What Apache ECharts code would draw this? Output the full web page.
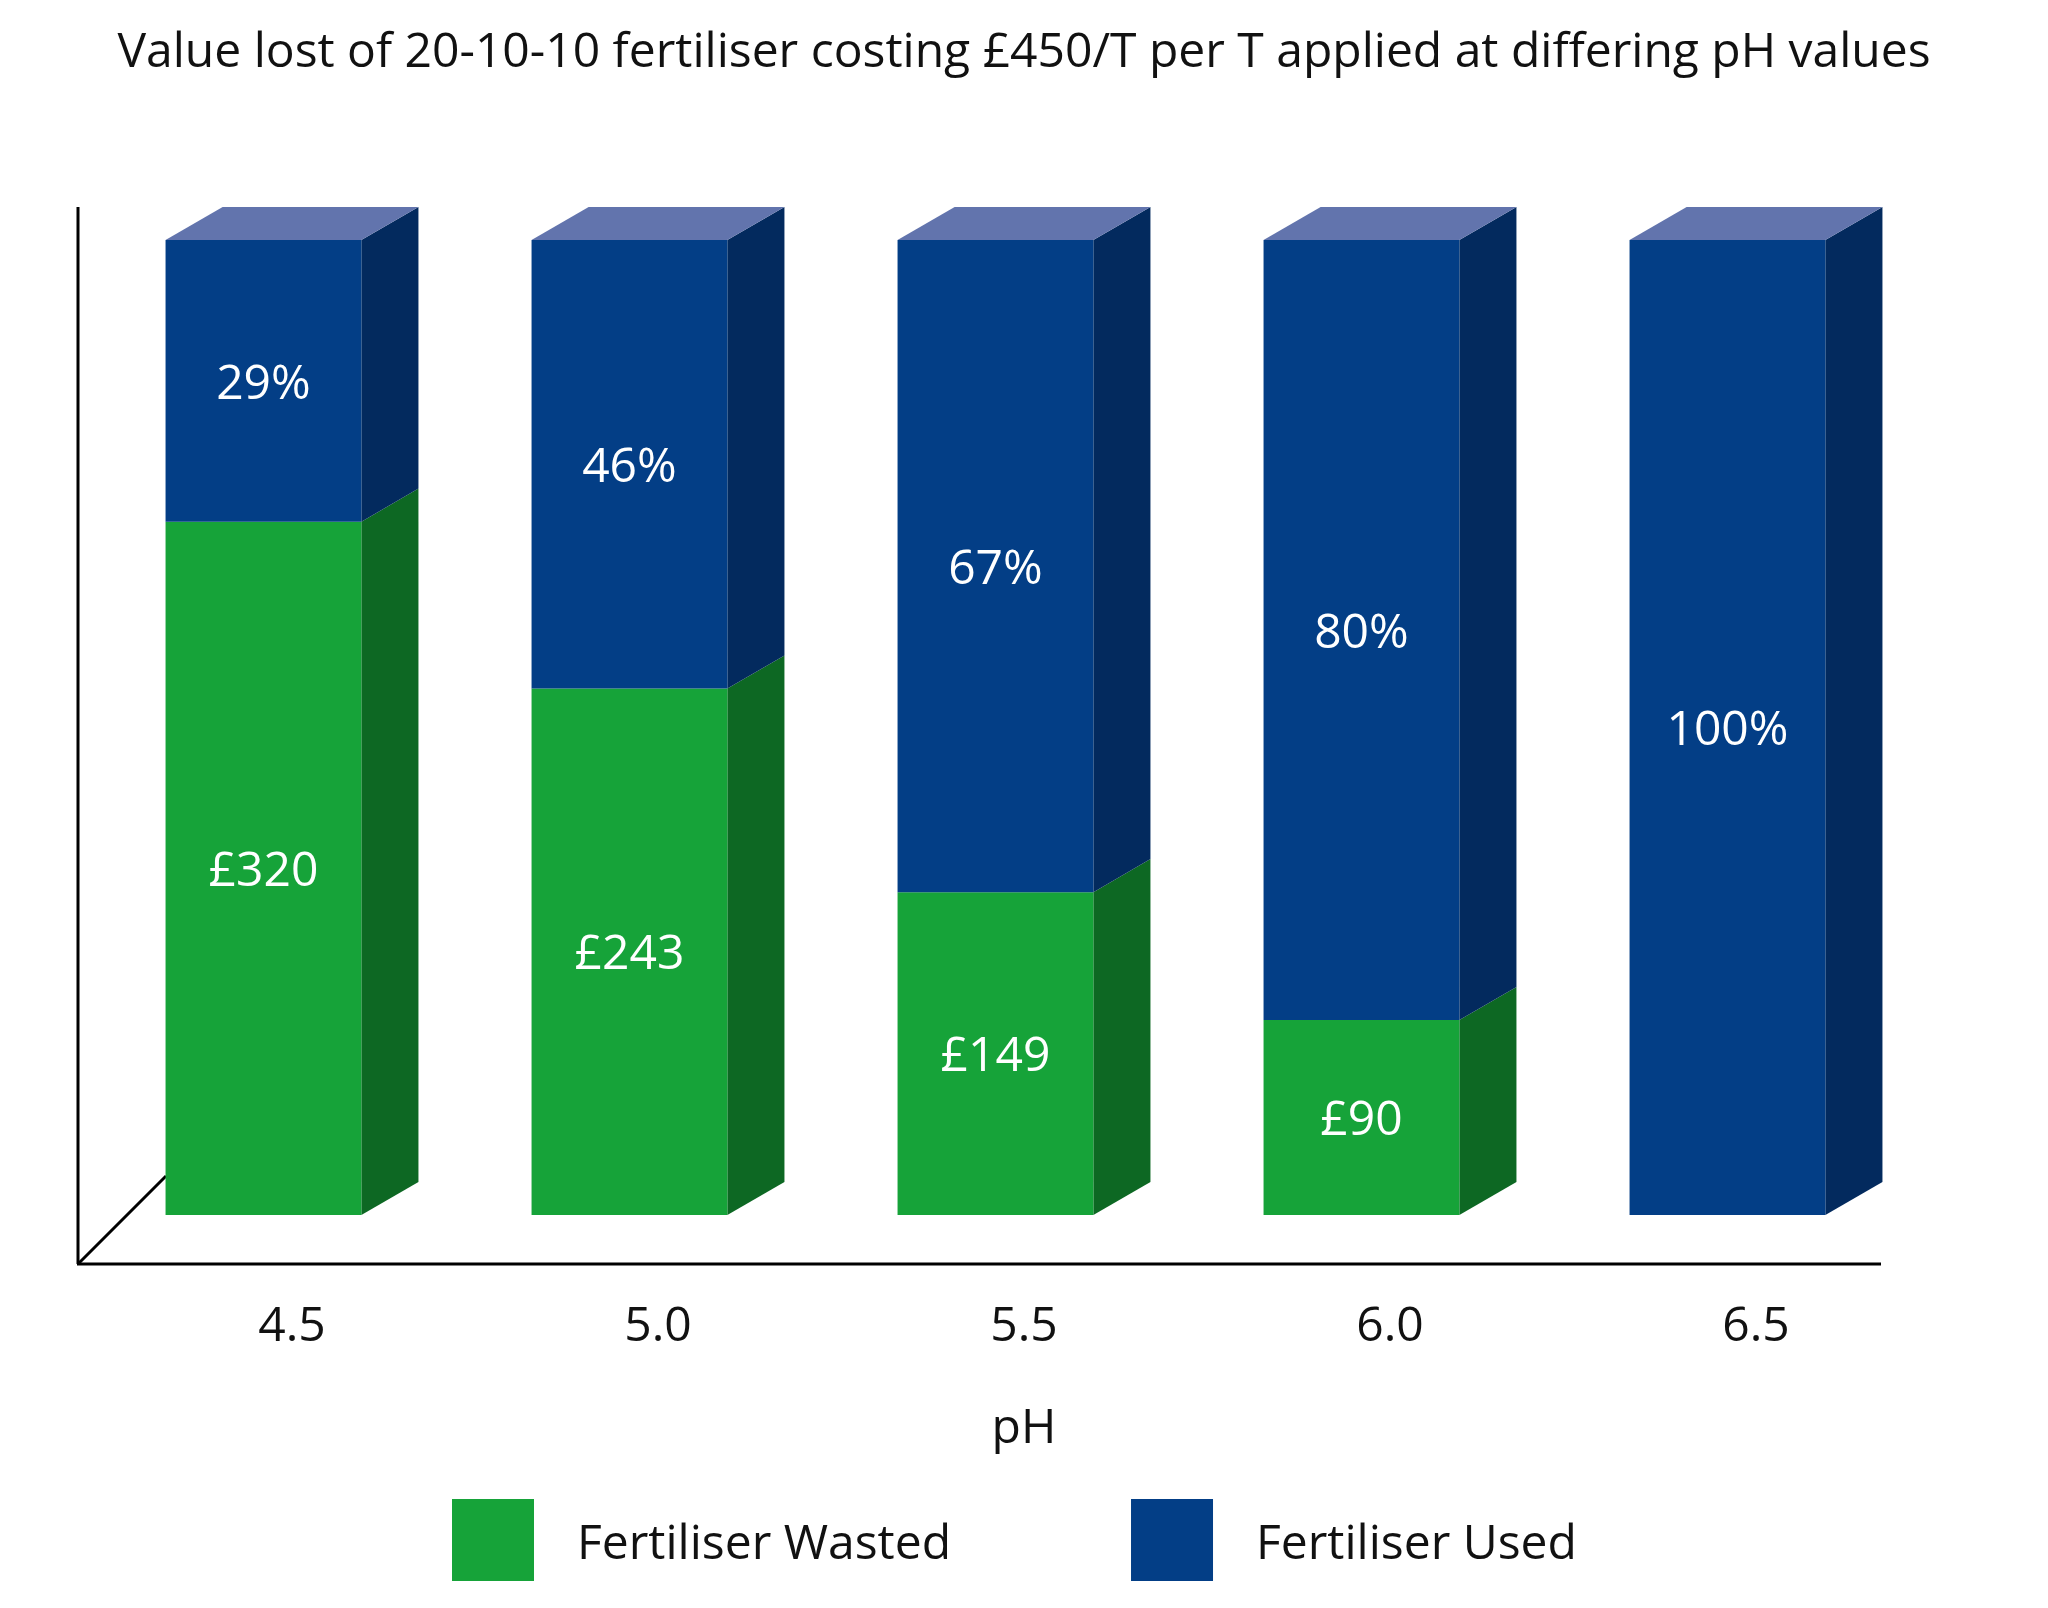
<!DOCTYPE html>
<html>
<head>
<meta charset="utf-8">
<script src="https://cdn.jsdelivr.net/npm/echarts@6/dist/echarts.min.js"></script>
<style>
  html, body { margin: 0; padding: 0; background: #fff; }
  #chart { width: 2048px; height: 1608px; }
</style>
</head>
<body>
<div id="chart"></div>
<script>
const categories = ['4.5', '5.0', '5.5', '6.0', '6.5'];
const wastedValues = [320, 243, 149, 90, 0];
const usedValues = [130, 207, 301, 360, 450];
const wastedLabels = ['£320', '£243', '£149', '£90', ''];
const usedLabels = ['29%', '46%', '67%', '80%', '100%'];

const FONT = '"Open Sans", "Noto Sans", sans-serif';

// stacked [index, from, to]
const wastedData = wastedValues.map((v, i) => [i, 0, v]);
const usedData = usedValues.map((v, i) => [i, wastedValues[i], wastedValues[i] + v]);

const makeRender = (front, side, top, labels, drawTop) => (params, api) => {
  const idx = api.value(0);
  const lo = api.value(1);
  const hi = api.value(2);
  if (hi <= lo) return null;
  const p0 = api.coord([idx, lo]);
  const p1 = api.coord([idx, hi]);
  const band = api.size([1, 0])[0];
  const w = band * 0.535;
  const dx = band * 0.156;
  const dy = dx * 0.58;
  const x0 = p0[0] - dx / 2 - w / 2;
  const x1 = x0 + w;
  const yb = p0[1];
  const yt = p1[1];
  const children = [
    {
      type: 'polygon',
      shape: { points: [[x1, yb], [x1 + dx, yb - dy], [x1 + dx, yt - dy], [x1, yt]] },
      style: { fill: side },
    },
    {
      type: 'rect',
      shape: { x: x0, y: yt, width: w, height: yb - yt },
      style: { fill: front },
    },
  ];
  if (drawTop) {
    children.push({
      type: 'polygon',
      shape: { points: [[x0, yt], [x0 + dx, yt - dy], [x1 + dx, yt - dy], [x1, yt]] },
      style: { fill: top },
    });
  }
  children.push({
    type: 'text',
    style: {
      x: x0 + w / 2,
      y: (yb + yt) / 2 + 4,
      text: labels[idx],
      fill: '#fff',
      font: '48px ' + FONT,
      align: 'center',
      verticalAlign: 'middle',
    },
  });
  return { type: 'group', children };
};

const chart = echarts.init(document.getElementById('chart'));
chart.setOption({
  backgroundColor: '#fff',
  animation: false,
  title: {
    text: 'Value lost of 20-10-10 fertiliser costing £450/T per T applied at differing pH values',
    left: 'center',
    top: 24,
    textStyle: { fontFamily: FONT, fontSize: 48, fontWeight: 'normal', color: '#111' },
  },
  grid: { left: 109, right: 109, top: 240, bottom: 393 },
  xAxis: {
    type: 'category',
    data: categories,
    axisLine: { show: false },
    axisTick: { show: false },
    axisLabel: { margin: 88, fontFamily: FONT, fontSize: 48, color: '#111' },
    name: 'pH',
    nameLocation: 'middle',
    nameGap: 190,
    nameTextStyle: { fontFamily: FONT, fontSize: 48, color: '#111' },
  },
  yAxis: {
    type: 'value',
    min: 0,
    max: 450,
    show: false,
  },
  legend: {
    left: 452,
    top: 1499,
    padding: 0,
    itemWidth: 82,
    itemHeight: 82,
    itemGap: 180,
    formatter: '{t|{name}}',
    textStyle: {
      fontFamily: FONT,
      fontSize: 48,
      color: '#111',
      padding: [0, 0, 0, 38],
      rich: {
        t: { fontFamily: FONT, fontSize: 48, color: '#111', padding: [10, 0, 0, 0] },
      },
    },
    data: [
      { name: 'Fertiliser Wasted', icon: 'rect', itemStyle: { color: '#16a339' } },
      { name: 'Fertiliser Used', icon: 'rect', itemStyle: { color: '#033e86' } },
    ],
  },
  graphic: [
    { type: 'line', z: 0, shape: { x1: 78, y1: 207, x2: 78, y2: 1264 }, style: { stroke: '#000', lineWidth: 3 } },
    { type: 'line', z: 0, shape: { x1: 77, y1: 1264, x2: 1881, y2: 1264 }, style: { stroke: '#000', lineWidth: 3 } },
    { type: 'line', z: 0, shape: { x1: 78, y1: 1264, x2: 166, y2: 1176 }, style: { stroke: '#000', lineWidth: 3 } },
  ],
  series: [
    {
      name: 'Fertiliser Wasted',
      type: 'custom',
      itemStyle: { color: '#16a339' },
      encode: { x: 0, y: [1, 2] },
      data: wastedData,
      renderItem: makeRender('#16a339', '#0d6823', '#6274ad', wastedLabels, false),
    },
    {
      name: 'Fertiliser Used',
      type: 'custom',
      itemStyle: { color: '#033e86' },
      encode: { x: 0, y: [1, 2] },
      data: usedData,
      renderItem: makeRender('#033e86', '#032a5e', '#6274ad', usedLabels, true),
    },
  ],
});
</script>
</body>
</html>
